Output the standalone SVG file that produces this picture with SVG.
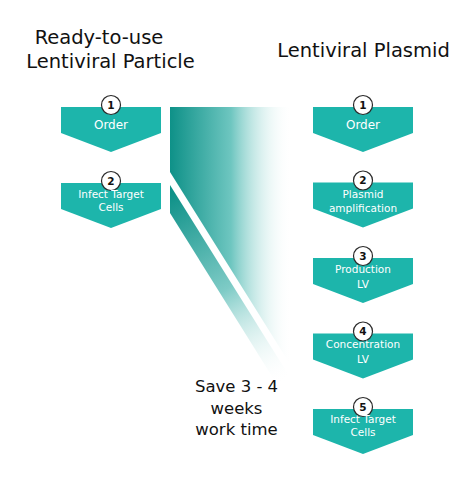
<svg xmlns="http://www.w3.org/2000/svg" width="474" height="484" viewBox="0 0 474 484">
<style>
.title{font-family:"DejaVu Sans",Verdana,sans-serif;font-size:19.5px;fill:#111;text-anchor:middle}
.save{font-family:"DejaVu Sans",Verdana,sans-serif;font-size:16.5px;fill:#111;text-anchor:middle}
.lbl{font-family:"DejaVu Sans",Verdana,sans-serif;font-size:10.5px;fill:#ffffff;text-anchor:middle}
.big{font-size:12px}
.num{font-family:"DejaVu Sans",Verdana,sans-serif;font-size:10.5px;font-weight:bold;fill:#111;text-anchor:middle}
.shape{fill:#1db5ab}
.badge{fill:#ffffff;stroke:#2a2a2a;stroke-width:1.2}
</style>
<defs>
<path id="pent" d="M-50,0 L50,0 L50,26 L0,45 L-50,26 Z"/>
<linearGradient id="gUp" gradientUnits="userSpaceOnUse" x1="170" y1="0" x2="292" y2="0">
<stop offset="0" stop-color="#0e9188"/>
<stop offset="0.5" stop-color="#6ec6c0"/>
<stop offset="1" stop-color="#ffffff" stop-opacity="0"/>
</linearGradient>
<linearGradient id="gLow" gradientUnits="userSpaceOnUse" x1="170" y1="195" x2="280" y2="385">
<stop offset="0" stop-color="#0e9188"/>
<stop offset="0.5" stop-color="#7ecbc6"/>
<stop offset="1" stop-color="#ffffff" stop-opacity="0"/>
</linearGradient>
</defs>
<rect width="474" height="484" fill="#ffffff"/>
<text class="title" x="99" y="44">Ready-to-use</text>
<text class="title" x="110.5" y="68">Lentiviral Particle</text>
<text class="title" x="363.5" y="57">Lentiviral Plasmid</text>
<g id="connectors">
<polygon points="170,107 300,107 300,380 170,172" fill="url(#gUp)"/>
<polygon points="170,185 170,213 288,402 288,374" fill="url(#gLow)"/>
</g>
<g id="left-1">
<use href="#pent" class="shape" transform="translate(111,107)"/>
<circle class="badge" cx="111" cy="105" r="9.5"/>
<text class="num" x="111" y="108.8">1</text>
<text class="lbl big" x="111" y="128.5">Order</text>
</g>
<g id="left-2">
<use href="#pent" class="shape" transform="translate(111,183)"/>
<circle class="badge" cx="111" cy="181" r="9.5"/>
<text class="num" x="111" y="184.8">2</text>
<text class="lbl" x="111" y="198">Infect Target</text>
<text class="lbl" x="111" y="211">Cells</text>
</g>
<g id="right-1">
<use href="#pent" class="shape" transform="translate(363,107)"/>
<circle class="badge" cx="363" cy="105" r="9.5"/>
<text class="num" x="363" y="108.8">1</text>
<text class="lbl big" x="363" y="128.5">Order</text>
</g>
<g id="right-2">
<use href="#pent" class="shape" transform="translate(363,182.5)"/>
<circle class="badge" cx="363" cy="180.5" r="9.5"/>
<text class="num" x="363" y="184.3">2</text>
<text class="lbl" x="363" y="197.5">Plasmid</text>
<text class="lbl" x="363" y="211.5">amplification</text>
</g>
<g id="right-3">
<use href="#pent" class="shape" transform="translate(363,258)"/>
<circle class="badge" cx="363" cy="256" r="9.5"/>
<text class="num" x="363" y="259.8">3</text>
<text class="lbl" x="363" y="273">Production</text>
<text class="lbl" x="363" y="288">LV</text>
</g>
<g id="right-4">
<use href="#pent" class="shape" transform="translate(363,333.5)"/>
<circle class="badge" cx="363" cy="331.5" r="9.5"/>
<text class="num" x="363" y="335.3">4</text>
<text class="lbl" x="363" y="347.5">Concentration</text>
<text class="lbl" x="363" y="363">LV</text>
</g>
<g id="right-5">
<use href="#pent" class="shape" transform="translate(363,409)"/>
<circle class="badge" cx="363" cy="407" r="9.5"/>
<text class="num" x="363" y="410.8">5</text>
<text class="lbl" x="363" y="422.5">Infect Target</text>
<text class="lbl" x="363" y="436">Cells</text>
</g>
<g id="save-note">
<text class="save" x="236.5" y="392">Save 3 - 4</text>
<text class="save" x="236.5" y="413.5">weeks</text>
<text class="save" x="236.5" y="435">work time</text>
</g>
</svg>
